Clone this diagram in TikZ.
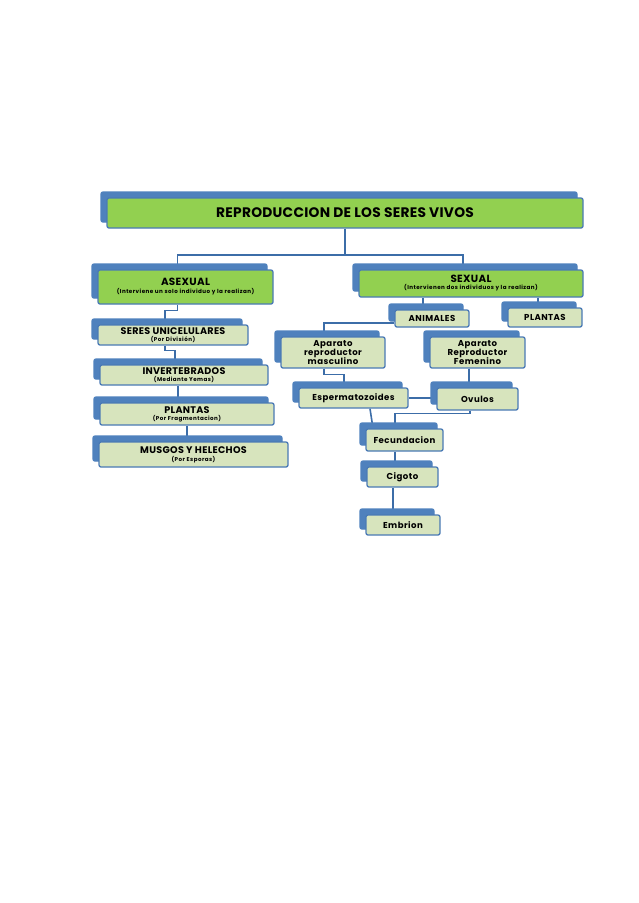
\documentclass[tikz,border=0pt]{standalone}
\usepackage{fontspec}
\setmainfont{Poppins}
\usetikzlibrary{shadows,backgrounds}

\definecolor{backblue}{HTML}{4F81BD}
\definecolor{edgeblue}{HTML}{4A7AB5}
\definecolor{linkblue}{HTML}{3C6DA8}
\definecolor{brightgreen}{HTML}{92D050}
\definecolor{palegreen}{HTML}{D7E4BD}

\newcommand{\klein}[1]{{\fontsize{5.6}{6}\selectfont\addfontfeature{LetterSpace=8}#1}}

\tikzset{
  box/.style={draw=edgeblue, line width=1.3pt, rounded corners=2pt,
    align=center, inner sep=0pt, font=\bfseries\fontsize{9.6}{10}\selectfont\addfontfeature{LetterSpace=3},
    copy shadow={shadow xshift=-6pt, shadow yshift=6pt, fill=backblue, draw=backblue}},
  greenbox/.style={box, fill=brightgreen},
  palebox/.style={box, fill=palegreen},
  kleinbox/.style={palebox, font=\bfseries\fontsize{8.6}{9.4}\selectfont\addfontfeature{LetterSpace=5}},
  link/.style={draw=linkblue, line width=1.6pt}
}

\begin{document}
\begin{tikzpicture}[x=1pt,y=-1pt]
\useasboundingbox (0,0) rectangle (638,903);

%OBERSTE ZEILE
\node[greenbox, minimum width=476, minimum height=30, font=\bfseries\fontsize{13.8}{14}\selectfont\addfontfeature{LetterSpace=2}] (titel) at (345,213) {REPRODUCCION DE LOS SERES VIVOS};

%ZWEITE ZEILE
\node[greenbox, minimum width=175, minimum height=34] (asexual) at (185.5,287)
  {{\fontsize{10.4}{10}\selectfont ASEXUAL}\\[-2pt]\klein{(Interviene un solo individuo y la realizan)}};
\node[greenbox, minimum width=224, minimum height=27] (sexual) at (471,283.5)
  {{\fontsize{10.4}{10}\selectfont SEXUAL}\\[-3pt]\klein{(Intervienen dos individuos y la realizan)}};

%LINKE SPALTE
\node[palebox, minimum width=150, minimum height=20] (seres) at (173,335) {SERES UNICELULARES\\[-3pt]\klein{(Por División)}};
\node[palebox, minimum width=168, minimum height=20] (invert) at (184,375) {INVERTEBRADOS\\[-3pt]\klein{(Mediante Yemas)}};
\node[palebox, minimum width=174, minimum height=22] (plantasA) at (187,414) {PLANTAS\\[-3pt]\klein{(Por Fragmentacion)}};
\node[palebox, minimum width=189, minimum height=25] (musgos) at (193.5,454.5) {MUSGOS Y HELECHOS\\[-2pt]\klein{(Por Esporas)}};

%RECHTE SPALTE
\node[kleinbox, minimum width=74, minimum height=17] (animales) at (432,318.5) {ANIMALES};
\node[kleinbox, minimum width=74, minimum height=19] (plantasB) at (545,317.5) {PLANTAS};
\node[kleinbox, minimum width=104, minimum height=31] (masculino) at (333,352.5) {Aparato\\reproductor\\masculino};
\node[kleinbox, minimum width=95, minimum height=31] (femenino) at (477.5,352.5) {Aparato\\Reproductor\\Femenino};
\node[kleinbox, minimum width=109, minimum height=20] (esperma) at (353.5,398) {Espermatozoides};
\node[kleinbox, minimum width=81, minimum height=22] (ovulos) at (477.5,399) {Ovulos};
\node[kleinbox, minimum width=77, minimum height=22] (fecund) at (404.5,440) {Fecundacion};
\node[kleinbox, minimum width=71, minimum height=20] (cigoto) at (402.5,477) {Cigoto};
\node[kleinbox, minimum width=74, minimum height=20] (embrion) at (403,525) {Embrion};

%VERBINDUNGEN
\begin{scope}[on background layer]
\path[link] (titel.south) -- (titel.south |- 0,255) -| ([xshift=-8pt]asexual.north);
\path[link] (titel.south |- 0,255) -| ([xshift=-8pt]sexual.north);
\path[link] ([xshift=-8pt]asexual.south) -- ++(0,6) -| ([xshift=-8pt]seres.north);
\path[link] ([xshift=-8pt]seres.south) -- ++(0,5) -| ([xshift=-9pt]invert.north);
\path[link] ([xshift=-6pt]invert.south) -- ([xshift=-9pt]plantasA.north);
\path[link] (plantasA.south) -- ([xshift=-6.5pt]musgos.north);
\path[link] ([xshift=-48pt]sexual.south) -- ([xshift=-9pt]animales.north);
\path[link] ([xshift=67pt]sexual.south) -- ([xshift=-7pt]plantasB.north);
\path[link] ([yshift=-4.5pt]animales.west) -| ([xshift=-9pt]masculino.north);
\path[link] ([xshift=-9pt]masculino.south) -- ++(0,6) -| ([xshift=-9.5pt]esperma.north);
\path[link] ([xshift=-8.5pt]femenino.south) -- ([xshift=-8.5pt]ovulos.north);
\path[link] (esperma.east) -- (esperma.east -| ovulos.west);
\path[link] ([xshift=16.5pt]esperma.south) -- ([xshift=-31.5pt]fecund.north);
\path[link] ([xshift=-7.5pt]ovulos.south) -- ++(0,3) -| ([xshift=-9.5pt]fecund.north);
\path[link] ([xshift=-9.5pt]fecund.south) -- ([xshift=-7.5pt]cigoto.north);
\path[link] ([xshift=-9.5pt]cigoto.south) -- ([xshift=-10pt]embrion.north);
\end{scope}

\end{tikzpicture}
\end{document}
